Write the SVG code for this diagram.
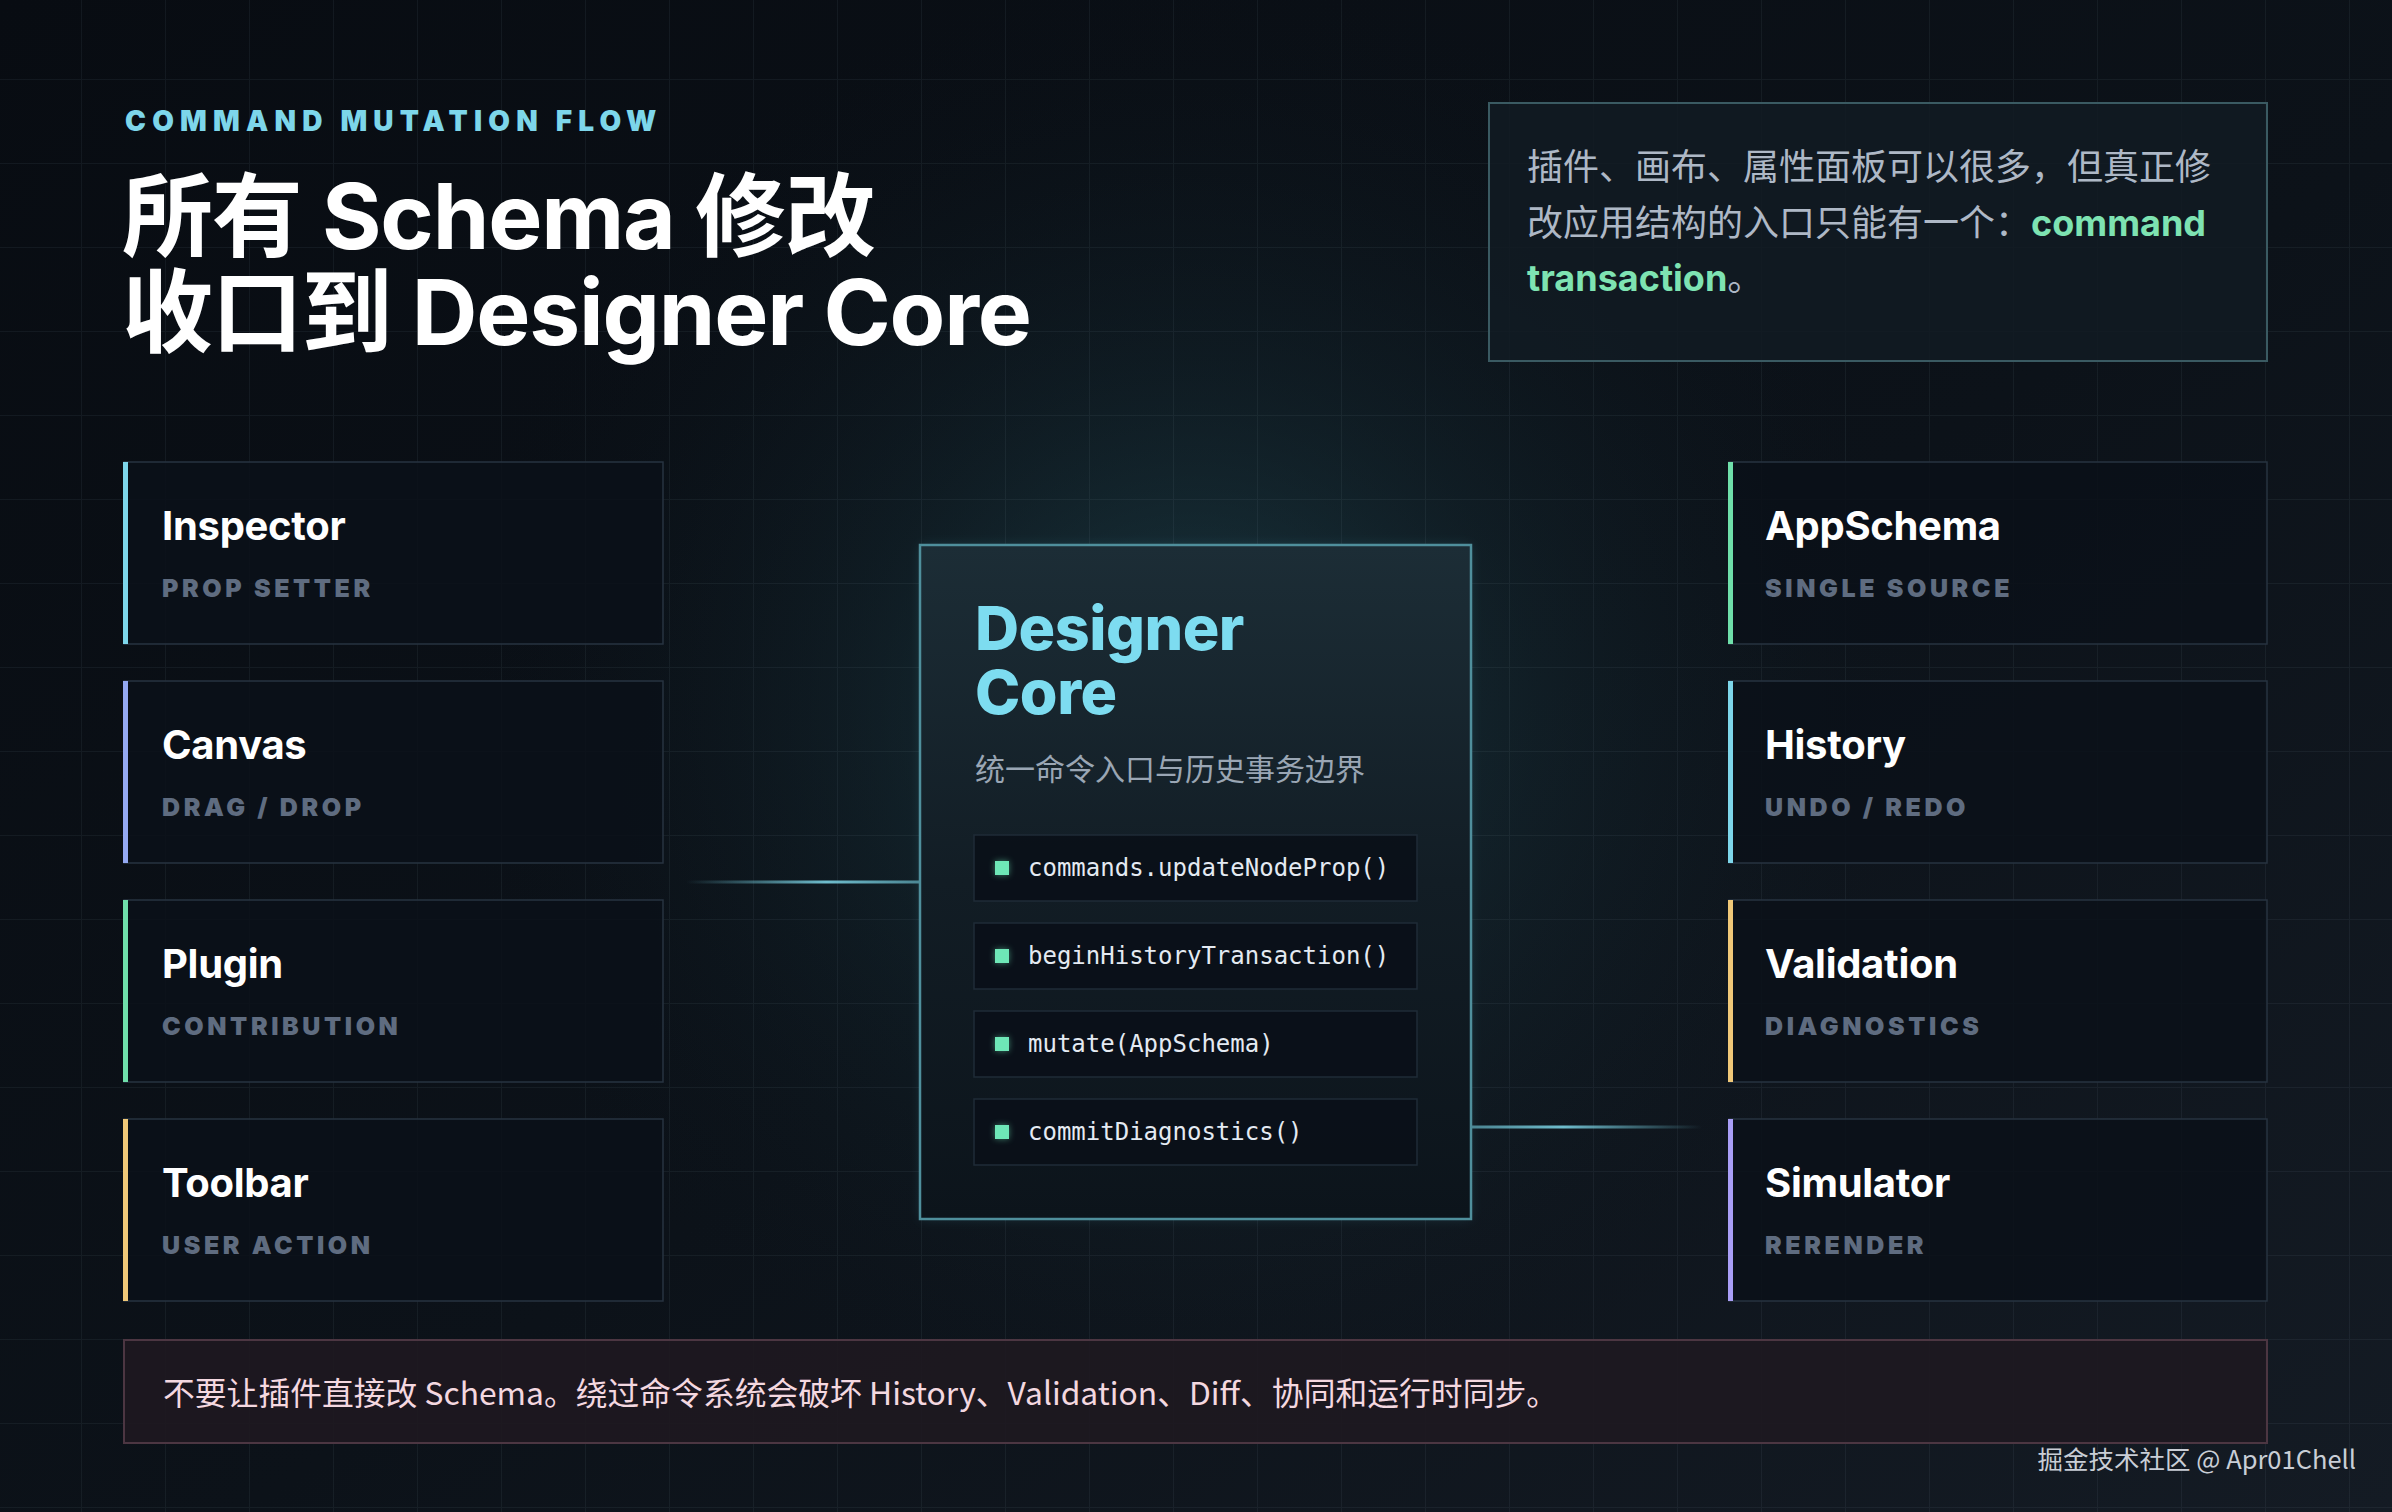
<svg xmlns="http://www.w3.org/2000/svg" width="2392" height="1512" viewBox="0 0 2392 1512">
<defs>
<style>
.eyebrow{font-family:"Inter","Lato",sans-serif;font-weight:900;font-size:28px;letter-spacing:6.2px;fill:#7dd6ea}
.h1{font-family:"Inter","Noto Sans CJK SC",sans-serif;font-weight:700;font-size:91px;fill:#ffffff;letter-spacing:-1.2px}
.h1c{font-family:"Noto Sans CJK SC",sans-serif;font-weight:700}
.note{font-family:"Noto Sans CJK SC",sans-serif;font-weight:400;font-size:36px;fill:#aeb8c6}
.noteHi{font-family:"Inter","Noto Sans CJK SC",sans-serif;font-weight:700;fill:#7ee3b2}
.card{fill:#0b1119;fill-opacity:0.85;stroke:#273340;stroke-width:1.5}
.ctitle{font-family:"Inter",sans-serif;font-weight:700;font-size:40px;fill:#ffffff;letter-spacing:-0.3px}
.csub{font-family:"Inter",sans-serif;font-weight:900;font-size:25px;letter-spacing:3.6px;fill:#5f6c80}
.coreTitle{font-family:"Inter",sans-serif;font-weight:800;font-size:61px;fill:#7ddcf0;letter-spacing:-0.5px}
.coreSub{font-family:"Noto Sans CJK SC",sans-serif;font-size:30px;fill:#9aa6b4}
.mbox{fill:#0a1018;fill-opacity:0.9;stroke:#1f2b37;stroke-width:1.5}
.mtext{font-family:"DejaVu Sans Mono","Liberation Mono",monospace;font-size:24px;fill:#e4eaf2}
.bullet{fill:#6ee7b7}
.warn{font-family:"Noto Sans CJK SC",sans-serif;font-size:31.8px;fill:#f4d8e0}
.wm{font-family:"Noto Sans CJK SC",sans-serif;font-size:25.5px;fill:#c9ced6}
</style>
<pattern id="grid" x="-3" y="-5" width="84" height="84" patternUnits="userSpaceOnUse">
<path d="M0 0V84M0 0H84" fill="none" stroke="#9fb4c8" stroke-opacity="0.07" stroke-width="2"/>
</pattern>
<radialGradient id="glow" cx="1195" cy="720" r="760" gradientUnits="userSpaceOnUse">
<stop offset="0" stop-color="#2b6570" stop-opacity="0.5"/>
<stop offset="0.45" stop-color="#1d3f48" stop-opacity="0.25"/>
<stop offset="1" stop-color="#0a0f16" stop-opacity="0"/>
</radialGradient>
<linearGradient id="bgGrad" x1="0" y1="0" x2="1" y2="1">
<stop offset="0" stop-color="#080c12"/>
<stop offset="0.55" stop-color="#0c1219"/>
<stop offset="1" stop-color="#141b24"/>
</linearGradient>
<linearGradient id="coreFill" x1="0" y1="0" x2="0" y2="1">
<stop offset="0" stop-color="#1c2d36"/>
<stop offset="0.5" stop-color="#121d25"/>
<stop offset="1" stop-color="#0c141b"/>
</linearGradient>
<linearGradient id="connL" x1="686" y1="0" x2="920" y2="0" gradientUnits="userSpaceOnUse">
<stop offset="0" stop-color="#6fc6d8" stop-opacity="0"/>
<stop offset="0.6" stop-color="#79cfe0" stop-opacity="0.9"/>
<stop offset="1" stop-color="#5a9fae" stop-opacity="0.8"/>
</linearGradient>
<linearGradient id="connR" x1="1471" y1="0" x2="1702" y2="0" gradientUnits="userSpaceOnUse">
<stop offset="0" stop-color="#5a9fae" stop-opacity="0.8"/>
<stop offset="0.4" stop-color="#79cfe0" stop-opacity="0.9"/>
<stop offset="1" stop-color="#6fc6d8" stop-opacity="0"/>
</linearGradient>
<filter id="blur6" x="-50%" y="-50%" width="200%" height="200%"><feGaussianBlur stdDeviation="6"/></filter>
<filter id="blur3" x="-100%" y="-100%" width="300%" height="300%"><feGaussianBlur stdDeviation="3"/></filter>
</defs>

<rect width="2392" height="1512" fill="url(#bgGrad)"/>
<rect width="2392" height="1512" fill="url(#glow)"/>
<rect width="2392" height="1512" fill="url(#grid)"/>

<g id="header">
<text class="eyebrow" x="125" y="131">COMMAND MUTATION FLOW</text>
<text class="h1" x="122" y="249"><tspan class="h1c">所有</tspan> Schema <tspan class="h1c">修改</tspan></text>
<text class="h1" x="122" y="345"><tspan class="h1c">收口到</tspan> Designer Core</text>
</g>

<g id="note">
<rect x="1489" y="103" width="778" height="258" fill="#121b23" fill-opacity="0.85" stroke="#3a5a62" stroke-width="2"/>
<text class="note" x="1527" y="180">插件、画布、属性面板可以很多，但真正修</text>
<text class="note" x="1527" y="236">改应用结构的入口只能有一个：<tspan class="noteHi">command</tspan></text>
<text class="note" x="1527" y="291"><tspan class="noteHi">transaction</tspan>。</text>
</g>

<g id="connectors">
<line x1="686" y1="882" x2="920" y2="882" stroke="url(#connL)" stroke-width="3"/>
<line x1="1471" y1="1127" x2="1702" y2="1127" stroke="url(#connR)" stroke-width="3"/>
</g>

<g id="node-inspector">
<rect class="card" x="124" y="462" width="539" height="182"/>
<rect x="123" y="462" width="5" height="182" fill="#7dd6ea"/>
<text class="ctitle" x="162" y="540">Inspector</text>
<text class="csub" x="162" y="597">PROP SETTER</text>
</g>
<g id="node-canvas">
<rect class="card" x="124" y="681" width="539" height="182"/>
<rect x="123" y="681" width="5" height="182" fill="#94a9f2"/>
<text class="ctitle" x="162" y="759">Canvas</text>
<text class="csub" x="162" y="816">DRAG / DROP</text>
</g>
<g id="node-plugin">
<rect class="card" x="124" y="900" width="539" height="182"/>
<rect x="123" y="900" width="5" height="182" fill="#6fdfaa"/>
<text class="ctitle" x="162" y="978">Plugin</text>
<text class="csub" x="162" y="1035">CONTRIBUTION</text>
</g>
<g id="node-toolbar">
<rect class="card" x="124" y="1119" width="539" height="182"/>
<rect x="123" y="1119" width="5" height="182" fill="#f0c878"/>
<text class="ctitle" x="162" y="1197">Toolbar</text>
<text class="csub" x="162" y="1254">USER ACTION</text>
</g>

<g id="node-appschema">
<rect class="card" x="1729" y="462" width="538" height="182"/>
<rect x="1728" y="462" width="5" height="182" fill="#6fdfaa"/>
<text class="ctitle" x="1765" y="540">AppSchema</text>
<text class="csub" x="1765" y="597">SINGLE SOURCE</text>
</g>
<g id="node-history">
<rect class="card" x="1729" y="681" width="538" height="182"/>
<rect x="1728" y="681" width="5" height="182" fill="#7dd6ea"/>
<text class="ctitle" x="1765" y="759">History</text>
<text class="csub" x="1765" y="816">UNDO / REDO</text>
</g>
<g id="node-validation">
<rect class="card" x="1729" y="900" width="538" height="182"/>
<rect x="1728" y="900" width="5" height="182" fill="#f0c878"/>
<text class="ctitle" x="1765" y="978">Validation</text>
<text class="csub" x="1765" y="1035">DIAGNOSTICS</text>
</g>
<g id="node-simulator">
<rect class="card" x="1729" y="1119" width="538" height="182"/>
<rect x="1728" y="1119" width="5" height="182" fill="#a99ef6"/>
<text class="ctitle" x="1765" y="1197">Simulator</text>
<text class="csub" x="1765" y="1254">RERENDER</text>
</g>

<g id="node-designer-core">
<rect x="920" y="545" width="551" height="674" fill="#4fa3b3" opacity="0.18" filter="url(#blur6)"/>
<rect x="920" y="545" width="551" height="674" fill="url(#coreFill)" stroke="#4f8f9c" stroke-width="2.5"/>
<text class="coreTitle" x="975" y="650">Designer</text>
<text class="coreTitle" x="975" y="714">Core</text>
<text class="coreSub" x="975" y="780">统一命令入口与历史事务边界</text>
<g>
<rect class="mbox" x="974" y="835" width="443" height="66"/>
<rect x="995" y="861" width="14" height="14" class="bullet" opacity="0.5" filter="url(#blur3)"/>
<rect x="995" y="861" width="14" height="14" class="bullet"/>
<text class="mtext" x="1028" y="876">commands.updateNodeProp()</text>
</g>
<g>
<rect class="mbox" x="974" y="923" width="443" height="66"/>
<rect x="995" y="949" width="14" height="14" class="bullet" opacity="0.5" filter="url(#blur3)"/>
<rect x="995" y="949" width="14" height="14" class="bullet"/>
<text class="mtext" x="1028" y="964">beginHistoryTransaction()</text>
</g>
<g>
<rect class="mbox" x="974" y="1011" width="443" height="66"/>
<rect x="995" y="1037" width="14" height="14" class="bullet" opacity="0.5" filter="url(#blur3)"/>
<rect x="995" y="1037" width="14" height="14" class="bullet"/>
<text class="mtext" x="1028" y="1052">mutate(AppSchema)</text>
</g>
<g>
<rect class="mbox" x="974" y="1099" width="443" height="66"/>
<rect x="995" y="1125" width="14" height="14" class="bullet" opacity="0.5" filter="url(#blur3)"/>
<rect x="995" y="1125" width="14" height="14" class="bullet"/>
<text class="mtext" x="1028" y="1140">commitDiagnostics()</text>
</g>
</g>

<g id="warning">
<rect x="124" y="1340" width="2143" height="103" fill="#1e1820" fill-opacity="0.9" stroke="#4c3642" stroke-width="2"/>
<text class="warn" x="163" y="1405">不要让插件直接改 Schema。绕过命令系统会破坏 History、Validation、Diff、协同和运行时同步。</text>
</g>

<text class="wm" x="2356" y="1469" text-anchor="end">掘金技术社区 @ Apr01Chell</text>
</svg>
